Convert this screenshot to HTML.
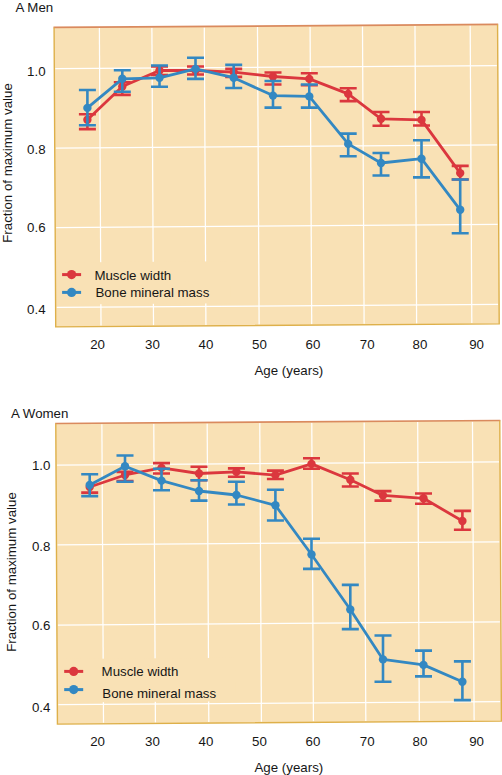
<!DOCTYPE html>
<html><head><meta charset="utf-8"><style>
html,body{margin:0;padding:0;background:#fff;}
body{width:502px;height:775px;overflow:hidden;}
svg{display:block;}
text{font-family:"Liberation Sans", sans-serif;font-size:13.3px;fill:#161616;}
</style></head><body>
<svg width="502" height="775" viewBox="0 0 502 775">
<g transform="translate(276.65 175.65) matrix(1 -0.00680 0.00550 1 0 0) translate(-276.65 -175.65)">
<rect x="54.9" y="25.9" width="443.5" height="299.5" fill="#f9e1b5"/>
<line x1="100.2" y1="26.9" x2="100.2" y2="324.4" stroke="#ffffff" stroke-width="1.25"/>
<line x1="152.7" y1="26.9" x2="152.7" y2="324.4" stroke="#ffffff" stroke-width="1.25"/>
<line x1="205.1" y1="26.9" x2="205.1" y2="324.4" stroke="#ffffff" stroke-width="1.25"/>
<line x1="258.3" y1="26.9" x2="258.3" y2="324.4" stroke="#ffffff" stroke-width="1.25"/>
<line x1="310.9" y1="26.9" x2="310.9" y2="324.4" stroke="#ffffff" stroke-width="1.25"/>
<line x1="363.3" y1="26.9" x2="363.3" y2="324.4" stroke="#ffffff" stroke-width="1.25"/>
<line x1="415.8" y1="26.9" x2="415.8" y2="324.4" stroke="#ffffff" stroke-width="1.25"/>
<line x1="471.0" y1="26.9" x2="471.0" y2="324.4" stroke="#ffffff" stroke-width="1.25"/>
<line x1="55.9" y1="67.2" x2="497.4" y2="67.2" stroke="#ffffff" stroke-width="1.25"/>
<line x1="55.9" y1="146.5" x2="497.4" y2="146.5" stroke="#ffffff" stroke-width="1.25"/>
<line x1="55.9" y1="226.0" x2="497.4" y2="226.0" stroke="#ffffff" stroke-width="1.25"/>
<line x1="55.9" y1="305.9" x2="497.4" y2="305.9" stroke="#ffffff" stroke-width="1.25"/>
<rect x="55.5" y="261.0" width="174.5" height="42.0" fill="#f9e1b5"/>
<path d="M54.3 25.9H499.0" stroke="#da8a5e" stroke-width="1.7"/>
<path d="M54.9 25.9V325.4H498.4V25.9" stroke="#deb04a" stroke-width="1.4" fill="none"/>
</g>
<text x="45.6" y="76.3" text-anchor="end">1.0</text>
<text x="45.6" y="154.0" text-anchor="end">0.8</text>
<text x="45.6" y="231.5" text-anchor="end">0.6</text>
<text x="45.6" y="313.7" text-anchor="end">0.4</text>
<text x="97.6" y="349.0" text-anchor="middle">20</text>
<text x="152.5" y="349.0" text-anchor="middle">30</text>
<text x="205.9" y="349.0" text-anchor="middle">40</text>
<text x="259.4" y="349.0" text-anchor="middle">50</text>
<text x="313.0" y="349.0" text-anchor="middle">60</text>
<text x="367.2" y="349.0" text-anchor="middle">70</text>
<text x="420.0" y="349.0" text-anchor="middle">80</text>
<text x="476.6" y="349.0" text-anchor="middle">90</text>
<text x="254.5" y="374.9">Age (years)</text>
<text transform="translate(12.0 163.0) rotate(-90)" text-anchor="middle">Fraction of maximum value</text>
<text x="15.5" y="11.7">A Men</text>
<line x1="62.1" y1="274.6" x2="81.1" y2="274.6" stroke="#db373e" stroke-width="3"/>
<circle cx="71.6" cy="274.6" r="4.6" fill="#db373e"/>
<text x="94.4" y="279.5">Muscle width</text>
<line x1="62.1" y1="292.4" x2="81.1" y2="292.4" stroke="#3388c2" stroke-width="3"/>
<circle cx="71.6" cy="292.4" r="4.6" fill="#3388c2"/>
<text x="95.5" y="297.0">Bone mineral mass</text>
<path d="M87.4 119.7 L122.3 86.5 L159.5 70.5 L195.5 70.5 L233.7 72.1 L273.0 76.5 L309.3 78.9 L348.2 93.9 L381.0 118.8 L421.5 119.9 L460.2 173.1" fill="none" stroke="#db373e" stroke-width="2.8" stroke-linejoin="round"/>
<path d="M87.4 114.2V129.1M78.9 114.2H95.9M78.9 129.1H95.9" stroke="#db373e" stroke-width="2.6" fill="none"/>
<circle cx="87.4" cy="119.7" r="4.2" fill="#db373e"/>
<path d="M122.3 82.3V94.9M113.8 82.3H130.8M113.8 94.9H130.8" stroke="#db373e" stroke-width="2.6" fill="none"/>
<circle cx="122.3" cy="86.5" r="4.2" fill="#db373e"/>
<path d="M159.5 66.5V75.0M151.0 66.5H168.0M151.0 75.0H168.0" stroke="#db373e" stroke-width="2.6" fill="none"/>
<circle cx="159.5" cy="70.5" r="4.2" fill="#db373e"/>
<path d="M195.5 66.5V74.5M187.0 66.5H204.0M187.0 74.5H204.0" stroke="#db373e" stroke-width="2.6" fill="none"/>
<circle cx="195.5" cy="70.5" r="4.2" fill="#db373e"/>
<path d="M233.7 68.9V76.9M225.2 68.9H242.2M225.2 76.9H242.2" stroke="#db373e" stroke-width="2.6" fill="none"/>
<circle cx="233.7" cy="72.1" r="4.2" fill="#db373e"/>
<path d="M273.0 72.5V84.5M264.5 72.5H281.5M264.5 84.5H281.5" stroke="#db373e" stroke-width="2.6" fill="none"/>
<circle cx="273.0" cy="76.5" r="4.2" fill="#db373e"/>
<path d="M309.3 73.3V85.3M300.8 73.3H317.8M300.8 85.3H317.8" stroke="#db373e" stroke-width="2.6" fill="none"/>
<circle cx="309.3" cy="78.9" r="4.2" fill="#db373e"/>
<path d="M348.2 88.3V101.1M339.7 88.3H356.7M339.7 101.1H356.7" stroke="#db373e" stroke-width="2.6" fill="none"/>
<circle cx="348.2" cy="93.9" r="4.2" fill="#db373e"/>
<path d="M381.0 112.0V125.8M372.5 112.0H389.5M372.5 125.8H389.5" stroke="#db373e" stroke-width="2.6" fill="none"/>
<circle cx="381.0" cy="118.8" r="4.2" fill="#db373e"/>
<path d="M421.5 112.0V125.5M413.0 112.0H430.0M413.0 125.5H430.0" stroke="#db373e" stroke-width="2.6" fill="none"/>
<circle cx="421.5" cy="119.9" r="4.2" fill="#db373e"/>
<path d="M460.2 165.9V179.5M451.7 165.9H468.7M451.7 179.5H468.7" stroke="#db373e" stroke-width="2.6" fill="none"/>
<circle cx="460.2" cy="173.1" r="4.2" fill="#db373e"/>
<path d="M87.4 107.9 L122.3 78.8 L159.5 77.8 L195.5 68.9 L233.7 77.7 L273.0 95.6 L309.3 96.4 L348.2 143.9 L381.0 163.0 L421.5 158.7 L460.2 209.8" fill="none" stroke="#3388c2" stroke-width="2.8" stroke-linejoin="round"/>
<path d="M87.4 90.0V125.3M78.9 90.0H95.9M78.9 125.3H95.9" stroke="#3388c2" stroke-width="2.6" fill="none"/>
<circle cx="87.4" cy="107.9" r="4.2" fill="#3388c2"/>
<path d="M122.3 70.2V91.8M113.8 70.2H130.8M113.8 91.8H130.8" stroke="#3388c2" stroke-width="2.6" fill="none"/>
<circle cx="122.3" cy="78.8" r="4.2" fill="#3388c2"/>
<path d="M159.5 65.5V86.8M151.0 65.5H168.0M151.0 86.8H168.0" stroke="#3388c2" stroke-width="2.6" fill="none"/>
<circle cx="159.5" cy="77.8" r="4.2" fill="#3388c2"/>
<path d="M195.5 57.7V78.9M187.0 57.7H204.0M187.0 78.9H204.0" stroke="#3388c2" stroke-width="2.6" fill="none"/>
<circle cx="195.5" cy="68.9" r="4.2" fill="#3388c2"/>
<path d="M233.7 64.9V88.0M225.2 64.9H242.2M225.2 88.0H242.2" stroke="#3388c2" stroke-width="2.6" fill="none"/>
<circle cx="233.7" cy="77.7" r="4.2" fill="#3388c2"/>
<path d="M273.0 81.0V107.6M264.5 81.0H281.5M264.5 107.6H281.5" stroke="#3388c2" stroke-width="2.6" fill="none"/>
<circle cx="273.0" cy="95.6" r="4.2" fill="#3388c2"/>
<path d="M309.3 84.5V107.6M300.8 84.5H317.8M300.8 107.6H317.8" stroke="#3388c2" stroke-width="2.6" fill="none"/>
<circle cx="309.3" cy="96.4" r="4.2" fill="#3388c2"/>
<path d="M348.2 133.6V156.3M339.7 133.6H356.7M339.7 156.3H356.7" stroke="#3388c2" stroke-width="2.6" fill="none"/>
<circle cx="348.2" cy="143.9" r="4.2" fill="#3388c2"/>
<path d="M381.0 153.0V175.5M372.5 153.0H389.5M372.5 175.5H389.5" stroke="#3388c2" stroke-width="2.6" fill="none"/>
<circle cx="381.0" cy="163.0" r="4.2" fill="#3388c2"/>
<path d="M421.5 140.3V177.4M413.0 140.3H430.0M413.0 177.4H430.0" stroke="#3388c2" stroke-width="2.6" fill="none"/>
<circle cx="421.5" cy="158.7" r="4.2" fill="#3388c2"/>
<path d="M460.2 179.5V233.2M451.7 179.5H468.7M451.7 233.2H468.7" stroke="#3388c2" stroke-width="2.6" fill="none"/>
<circle cx="460.2" cy="209.8" r="4.2" fill="#3388c2"/>
<g transform="translate(278.60 572.30) matrix(1 -0.00680 0.00550 1 0 0) translate(-278.60 -572.30)">
<rect x="56.6" y="422.0" width="444.0" height="300.6" fill="#f9e1b5"/>
<line x1="102.7" y1="423.0" x2="102.7" y2="721.6" stroke="#ffffff" stroke-width="1.25"/>
<line x1="154.6" y1="423.0" x2="154.6" y2="721.6" stroke="#ffffff" stroke-width="1.25"/>
<line x1="208.0" y1="423.0" x2="208.0" y2="721.6" stroke="#ffffff" stroke-width="1.25"/>
<line x1="260.6" y1="423.0" x2="260.6" y2="721.6" stroke="#ffffff" stroke-width="1.25"/>
<line x1="312.6" y1="423.0" x2="312.6" y2="721.6" stroke="#ffffff" stroke-width="1.25"/>
<line x1="365.0" y1="423.0" x2="365.0" y2="721.6" stroke="#ffffff" stroke-width="1.25"/>
<line x1="418.5" y1="423.0" x2="418.5" y2="721.6" stroke="#ffffff" stroke-width="1.25"/>
<line x1="473.3" y1="423.0" x2="473.3" y2="721.6" stroke="#ffffff" stroke-width="1.25"/>
<line x1="57.6" y1="463.5" x2="499.6" y2="463.5" stroke="#ffffff" stroke-width="1.25"/>
<line x1="57.6" y1="543.3" x2="499.6" y2="543.3" stroke="#ffffff" stroke-width="1.25"/>
<line x1="57.6" y1="623.5" x2="499.6" y2="623.5" stroke="#ffffff" stroke-width="1.25"/>
<line x1="57.6" y1="703.2" x2="499.6" y2="703.2" stroke="#ffffff" stroke-width="1.25"/>
<rect x="57.2" y="657.5" width="177.8" height="43.5" fill="#f9e1b5"/>
<path d="M56.0 422.0H501.2" stroke="#da8a5e" stroke-width="1.7"/>
<path d="M56.6 422.0V722.6H500.6V422.0" stroke="#deb04a" stroke-width="1.4" fill="none"/>
</g>
<text x="50.4" y="469.6" text-anchor="end">1.0</text>
<text x="50.4" y="550.6" text-anchor="end">0.8</text>
<text x="50.4" y="630.4" text-anchor="end">0.6</text>
<text x="50.4" y="711.9" text-anchor="end">0.4</text>
<text x="97.6" y="745.9" text-anchor="middle">20</text>
<text x="152.5" y="745.9" text-anchor="middle">30</text>
<text x="205.9" y="745.9" text-anchor="middle">40</text>
<text x="259.4" y="745.9" text-anchor="middle">50</text>
<text x="313.0" y="745.9" text-anchor="middle">60</text>
<text x="367.2" y="745.9" text-anchor="middle">70</text>
<text x="420.0" y="745.9" text-anchor="middle">80</text>
<text x="476.6" y="745.9" text-anchor="middle">90</text>
<text x="254.5" y="771.8">Age (years)</text>
<text transform="translate(15.8 572.0) rotate(-90)" text-anchor="middle">Fraction of maximum value</text>
<text x="11.0" y="418.4">A Women</text>
<line x1="64.2" y1="671.4" x2="83.2" y2="671.4" stroke="#db373e" stroke-width="3"/>
<circle cx="73.7" cy="671.4" r="4.6" fill="#db373e"/>
<text x="101.6" y="675.6">Muscle width</text>
<line x1="64.2" y1="689.6" x2="83.2" y2="689.6" stroke="#3388c2" stroke-width="3"/>
<circle cx="73.7" cy="689.6" r="4.6" fill="#3388c2"/>
<text x="102.3" y="697.7">Bone mineral mass</text>
<path d="M89.7 487.0 L125.0 475.0 L161.5 467.9 L199.0 473.5 L236.4 471.9 L275.4 475.1 L311.5 463.9 L350.3 479.8 L383.0 495.4 L423.5 498.3 L462.4 521.0" fill="none" stroke="#db373e" stroke-width="2.8" stroke-linejoin="round"/>
<path d="M89.7 487.0V492.6M81.2 492.6H98.2" stroke="#db373e" stroke-width="2.6" fill="none"/>
<circle cx="89.7" cy="487.0" r="4.2" fill="#db373e"/>
<path d="M125.0 471.9V481.0M116.5 471.9H133.5M116.5 481.0H133.5" stroke="#db373e" stroke-width="2.6" fill="none"/>
<circle cx="125.0" cy="475.0" r="4.2" fill="#db373e"/>
<path d="M161.5 463.1V473.5M153.0 463.1H170.0M153.0 473.5H170.0" stroke="#db373e" stroke-width="2.6" fill="none"/>
<circle cx="161.5" cy="467.9" r="4.2" fill="#db373e"/>
<path d="M199.0 466.8V480.2M190.5 466.8H207.5M190.5 480.2H207.5" stroke="#db373e" stroke-width="2.6" fill="none"/>
<circle cx="199.0" cy="473.5" r="4.2" fill="#db373e"/>
<path d="M236.4 468.4V476.7M227.9 468.4H244.9M227.9 476.7H244.9" stroke="#db373e" stroke-width="2.6" fill="none"/>
<circle cx="236.4" cy="471.9" r="4.2" fill="#db373e"/>
<path d="M275.4 470.6V479.0M266.9 470.6H283.9M266.9 479.0H283.9" stroke="#db373e" stroke-width="2.6" fill="none"/>
<circle cx="275.4" cy="475.1" r="4.2" fill="#db373e"/>
<path d="M311.5 458.3V468.7M303.0 458.3H320.0M303.0 468.7H320.0" stroke="#db373e" stroke-width="2.6" fill="none"/>
<circle cx="311.5" cy="463.9" r="4.2" fill="#db373e"/>
<path d="M350.3 473.5V486.5M341.8 473.5H358.8M341.8 486.5H358.8" stroke="#db373e" stroke-width="2.6" fill="none"/>
<circle cx="350.3" cy="479.8" r="4.2" fill="#db373e"/>
<path d="M383.0 491.1V500.6M374.5 491.1H391.5M374.5 500.6H391.5" stroke="#db373e" stroke-width="2.6" fill="none"/>
<circle cx="383.0" cy="495.4" r="4.2" fill="#db373e"/>
<path d="M423.5 493.5V503.7M415.0 493.5H432.0M415.0 503.7H432.0" stroke="#db373e" stroke-width="2.6" fill="none"/>
<circle cx="423.5" cy="498.3" r="4.2" fill="#db373e"/>
<path d="M462.4 510.9V529.8M453.9 510.9H470.9M453.9 529.8H470.9" stroke="#db373e" stroke-width="2.6" fill="none"/>
<circle cx="462.4" cy="521.0" r="4.2" fill="#db373e"/>
<path d="M89.7 485.0 L125.0 466.3 L161.5 480.6 L199.0 491.0 L236.4 495.0 L275.4 505.3 L311.5 554.5 L350.3 609.5 L383.0 659.4 L423.5 664.9 L462.4 681.7" fill="none" stroke="#3388c2" stroke-width="2.8" stroke-linejoin="round"/>
<path d="M89.7 474.3V496.1M81.2 474.3H98.2M81.2 496.1H98.2" stroke="#3388c2" stroke-width="2.6" fill="none"/>
<circle cx="89.7" cy="485.0" r="4.2" fill="#3388c2"/>
<path d="M125.0 455.5V481.8M116.5 455.5H133.5M116.5 481.8H133.5" stroke="#3388c2" stroke-width="2.6" fill="none"/>
<circle cx="125.0" cy="466.3" r="4.2" fill="#3388c2"/>
<path d="M161.5 468.7V490.2M153.0 468.7H170.0M153.0 490.2H170.0" stroke="#3388c2" stroke-width="2.6" fill="none"/>
<circle cx="161.5" cy="480.6" r="4.2" fill="#3388c2"/>
<path d="M199.0 480.2V500.6M190.5 480.2H207.5M190.5 500.6H207.5" stroke="#3388c2" stroke-width="2.6" fill="none"/>
<circle cx="199.0" cy="491.0" r="4.2" fill="#3388c2"/>
<path d="M236.4 481.8V504.5M227.9 481.8H244.9M227.9 504.5H244.9" stroke="#3388c2" stroke-width="2.6" fill="none"/>
<circle cx="236.4" cy="495.0" r="4.2" fill="#3388c2"/>
<path d="M275.4 489.7V520.5M266.9 489.7H283.9M266.9 520.5H283.9" stroke="#3388c2" stroke-width="2.6" fill="none"/>
<circle cx="275.4" cy="505.3" r="4.2" fill="#3388c2"/>
<path d="M311.5 538.7V568.9M303.0 538.7H320.0M303.0 568.9H320.0" stroke="#3388c2" stroke-width="2.6" fill="none"/>
<circle cx="311.5" cy="554.5" r="4.2" fill="#3388c2"/>
<path d="M350.3 584.9V629.1M341.8 584.9H358.8M341.8 629.1H358.8" stroke="#3388c2" stroke-width="2.6" fill="none"/>
<circle cx="350.3" cy="609.5" r="4.2" fill="#3388c2"/>
<path d="M383.0 635.5V681.7M374.5 635.5H391.5M374.5 681.7H391.5" stroke="#3388c2" stroke-width="2.6" fill="none"/>
<circle cx="383.0" cy="659.4" r="4.2" fill="#3388c2"/>
<path d="M423.5 650.6V676.4M415.0 650.6H432.0M415.0 676.4H432.0" stroke="#3388c2" stroke-width="2.6" fill="none"/>
<circle cx="423.5" cy="664.9" r="4.2" fill="#3388c2"/>
<path d="M462.4 661.4V700.1M453.9 661.4H470.9M453.9 700.1H470.9" stroke="#3388c2" stroke-width="2.6" fill="none"/>
<circle cx="462.4" cy="681.7" r="4.2" fill="#3388c2"/>
</svg>
</body></html>
